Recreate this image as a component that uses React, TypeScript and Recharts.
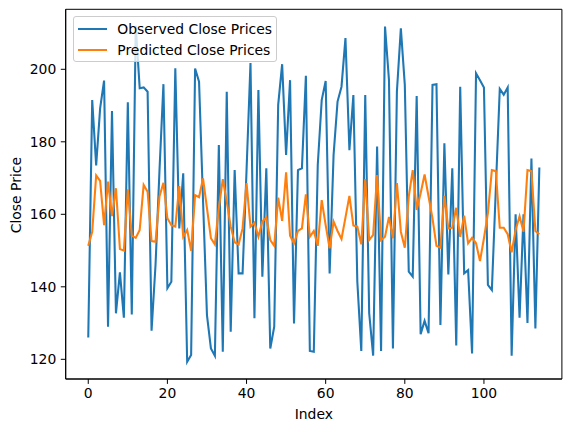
import React from 'react';
import { LineChart, Line, XAxis, YAxis, Legend, ReferenceArea, Label } from 'recharts';

const observed: number[] = [
  126.0, 191.5, 173.5, 189.2, 196.9, 129.0, 188.5, 132.7, 144.0, 131.5,
  190.9, 132.4, 212.0, 194.8, 195.0, 193.8, 127.9, 146.0, 172.0, 195.9,
  139.6, 141.4, 200.3, 156.1, 171.3, 119.3, 121.2, 200.2, 196.6, 164.0,
  132.2, 123.0, 121.0, 179.1, 122.1, 193.8, 127.6, 172.2, 143.7, 143.7,
  172.0, 201.7, 131.3, 194.3, 142.8, 172.7, 123.0, 129.0, 190.2, 201.4,
  176.4, 197.0, 129.9, 172.2, 172.7, 198.2, 122.3, 122.1, 173.6, 191.5,
  196.8, 143.7, 176.4, 191.1, 195.2, 208.6, 177.7, 192.9, 141.4, 122.3,
  192.9, 132.7, 121.0, 178.7, 122.3, 211.8, 197.0, 123.0, 193.8, 211.3,
  195.7, 144.2, 142.8, 192.6, 126.9, 130.6, 127.2, 195.7, 195.9, 129.5,
  179.6, 143.4, 172.7, 123.8, 195.2, 143.7, 144.6, 121.6, 198.9, 197.0,
  195.0, 140.5, 139.1, 167.0, 194.6, 193.0, 195.0, 121.0, 160.0, 131.5,
  160.0, 130.0, 175.4, 128.5, 172.9,
];

const predicted: number[] = [
  151.3, 155.2, 170.7, 169.2, 157.0, 169.0, 159.5, 167.2, 150.4, 150.0,
  166.9, 154.1, 153.5, 155.7, 168.1, 166.2, 152.6, 152.4, 164.9, 168.7,
  158.9, 157.0, 156.6, 167.8, 153.8, 155.7, 149.9, 165.3, 164.7, 169.9,
  161.7, 153.4, 151.7, 161.7, 169.7, 163.5, 156.6, 152.3, 151.7, 156.1,
  168.6, 156.6, 157.7, 153.8, 158.0, 159.1, 152.9, 151.3, 164.6, 158.2,
  171.6, 154.1, 152.0, 155.4, 156.1, 165.5, 153.8, 155.4, 151.3, 163.9,
  157.0, 150.6, 158.0, 155.4, 153.2, 159.1, 165.1, 156.9, 156.6, 151.7,
  169.7, 152.9, 154.3, 170.8, 152.9, 153.8, 159.3, 153.4, 168.6, 155.2,
  150.8, 164.9, 172.2, 161.2, 165.8, 171.0, 164.9, 158.9, 151.3, 150.8,
  165.1, 156.1, 156.3, 161.8, 153.8, 159.6, 152.0, 153.5, 152.0, 147.1,
  153.4, 160.3, 172.2, 171.9, 156.3, 156.3, 154.5, 149.5, 155.7, 159.5,
  155.2, 172.2, 171.9, 155.4, 154.5,
];

const xTicks: number[] = [0, 20, 40, 60, 80, 100];
const yTicks: number[] = [120, 140, 160, 180, 200];
const xDomain: [number, number] = [-5.7, 119.7];
const yDomain: [number, number] = [114.57, 216.55];

const seriesNames = ['Observed Close Prices', 'Predicted Close Prices'];
const seriesColors = ['#1f77b4', '#ff7f0e'];

const data = observed.map((v, i) => ({ index: i, observed: v, predicted: predicted[i] }));

const FONT = '"DejaVu Sans", sans-serif';
const FS = 13.9;

const LegendBox = () => (
  <div
    style={{
      position: 'relative',
      width: 204,
      height: 46,
      boxSizing: 'border-box',
      border: '1px solid #cccccc',
      borderRadius: 3,
      background: 'rgba(255,255,255,0.8)',
      fontFamily: FONT,
      fontSize: FS,
      color: '#000',
    }}
  >
    {seriesNames.map((name, i) => (
      <div key={name} style={{ position: 'absolute', left: 0, top: 3 + i * 21, height: 18, width: '100%' }}>
        <div style={{ position: 'absolute', left: 4, top: 8, width: 29, height: 2, background: seriesColors[i] }} />
        <div style={{ position: 'absolute', left: 43, top: 1, lineHeight: '16px', whiteSpace: 'nowrap' }}>{name}</div>
      </div>
    ))}
  </div>
);

const YLabel = (props: any) => {
  const vb = props.viewBox || { x: 0, y: 9.3, width: 65.7, height: 369.7 };
  const cx = 20.7;
  const cy = vb.y + vb.height / 2 + 1;
  return (
    <text
      x={cx}
      y={cy}
      transform={`rotate(-90, ${cx}, ${cy})`}
      textAnchor="middle"
      fontSize={FS}
      fontFamily={FONT}
      fill="#000"
    >
      Close Price
    </text>
  );
};

export default function App() {
  return (
    <div style={{ position: 'absolute', left: 0, top: 0, width: 571, height: 432, background: '#fff' }}>
      <LineChart
        width={571}
        height={432}
        data={data}
        margin={{ top: 9.3, right: 9.1, bottom: 0, left: 0 }}
      >
        <XAxis
          dataKey="index"
          type="number"
          domain={xDomain}
          ticks={xTicks}
          allowDataOverflow
          height={53}
          tickSize={4.9}
          tickMargin={4}
          tick={{ fill: '#000', fontSize: FS, fontFamily: FONT }}
          tickLine={{ stroke: '#000', strokeWidth: 1 }}
          axisLine={{ stroke: '#000', strokeWidth: 1 }}
        >
          <Label value="Index" position="insideBottom" offset={13} fill="#000" fontSize={FS} fontFamily={FONT} />
        </XAxis>
        <YAxis
          type="number"
          domain={yDomain}
          ticks={yTicks}
          allowDataOverflow
          width={65.7}
          tickSize={4.9}
          tickMargin={4.5}
          tick={{ fill: '#000', fontSize: FS, fontFamily: FONT }}
          tickLine={{ stroke: '#000', strokeWidth: 1 }}
          axisLine={{ stroke: '#000', strokeWidth: 1 }}
        >
          <Label content={<YLabel />} />
        </YAxis>
        <ReferenceArea
          x1={xDomain[0]}
          x2={xDomain[1]}
          y1={yDomain[0]}
          y2={yDomain[1]}
          fill="none"
          fillOpacity={0}
          stroke="#000"
          strokeWidth={1}
          strokeOpacity={1}
        />
        <Line
          type="linear"
          dataKey="observed"
          name={seriesNames[0]}
          stroke={seriesColors[0]}
          strokeWidth={2.08}
          dot={false}
          activeDot={false}
          isAnimationActive={false}
        />
        <Line
          type="linear"
          dataKey="predicted"
          name={seriesNames[1]}
          stroke={seriesColors[1]}
          strokeWidth={2.08}
          dot={false}
          activeDot={false}
          isAnimationActive={false}
        />
        <Legend
          layout="vertical"
          align="center"
          verticalAlign="middle"
          content={<LegendBox />}
          wrapperStyle={{ position: 'absolute', left: 73.3, top: 16, width: 204, height: 46 }}
        />
      </LineChart>
    </div>
  );
}
